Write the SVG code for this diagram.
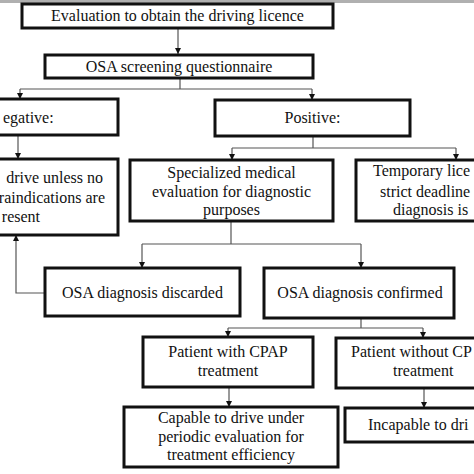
<svg xmlns="http://www.w3.org/2000/svg" width="474" height="474" viewBox="0 0 474 474">
<defs>
<marker id="ah" viewBox="0 0 6 6" refX="6" refY="3" markerWidth="6" markerHeight="6" markerUnits="userSpaceOnUse" orient="auto">
<path d="M0,0 L6,3 L0,6 Z" fill="#111"/>
</marker>
<style>
.box{fill:#fff;stroke:#111;stroke-width:3}
.t{font-family:"Liberation Serif","Times New Roman",serif;font-size:16px;fill:#111}
.c{text-anchor:middle}
.ln{fill:none;stroke:#555;stroke-width:1.2}
.ar{fill:none;stroke:#555;stroke-width:1.2;marker-end:url(#ah)}
</style>
</defs>
<rect x="0" y="0" width="474" height="474" fill="#fff"/>
<rect x="0" y="0" width="474" height="3" fill="#b0b0b0"/>
<g id="connectors">
<path class="ar" d="M178,28 V54"/>
<path class="ln" d="M180,78 V89 M20,89 H312"/>
<path class="ar" d="M20,89 V99"/>
<path class="ar" d="M312,89 V100"/>
<path class="ar" d="M18,135 V159"/>
<path class="ln" d="M313,136 V148 M232,148 H456"/>
<path class="ar" d="M232,148 V160"/>
<path class="ar" d="M456,148 V160"/>
<path class="ln" d="M231,221 V244 M142,244 H361"/>
<path class="ar" d="M142,244 V268"/>
<path class="ar" d="M361,244 V268"/>
<path class="ar" d="M45,293 H16 V235"/>
<path class="ln" d="M361,318 V328 M228,328 H423"/>
<path class="ar" d="M228,328 V337"/>
<path class="ar" d="M423,328 V338"/>
<path class="ar" d="M229,387 V407"/>
<path class="ar" d="M424,388 V408"/>
</g>
<g id="eval">
<rect class="box" x="22" y="4" width="311" height="24"/>
<text class="t c" x="177.5" y="21">Evaluation to obtain the driving licence</text>
</g>
<g id="osa">
<rect class="box" x="45" y="55" width="268" height="23"/>
<text class="t c" x="179" y="72">OSA screening questionnaire</text>
</g>
<g id="negative">
<rect class="box" x="-10" y="99" width="128" height="36"/>
<text class="t" x="3" y="123">egative:</text>
</g>
<g id="positive">
<rect class="box" x="215" y="100" width="195" height="36"/>
<text class="t c" x="312.5" y="123">Positive:</text>
</g>
<g id="able">
<rect class="box" x="-10" y="159" width="128" height="76"/>
<text class="t" text-anchor="end"><tspan x="103" y="183">drive unless no</tspan><tspan x="105" y="203">raindications are</tspan><tspan x="40" y="222">resent</tspan></text>
</g>
<g id="specialized">
<rect class="box" x="130" y="160" width="203" height="61"/>
<text class="t c"><tspan x="231.5" y="178">Specialized medical</tspan><tspan x="231.5" y="197">evaluation for diagnostic</tspan><tspan x="231.5" y="215">purposes</tspan></text>
</g>
<g id="temporary">
<rect class="box" x="356" y="160" width="140" height="61"/>
<text class="t"><tspan x="373" y="176">Temporary lice</tspan><tspan x="380" y="197">strict deadline</tspan><tspan x="393" y="215">diagnosis is</tspan></text>
</g>
<g id="discarded">
<rect class="box" x="45" y="268" width="195" height="48"/>
<text class="t c" x="142.5" y="298">OSA diagnosis discarded</text>
</g>
<g id="confirmed">
<rect class="box" x="264" y="268" width="190" height="50"/>
<text class="t c" x="360" y="298">OSA diagnosis confirmed</text>
</g>
<g id="cpap">
<rect class="box" x="143" y="337" width="170" height="50"/>
<text class="t c"><tspan x="228" y="357">Patient with CPAP</tspan><tspan x="228" y="376">treatment</tspan></text>
</g>
<g id="nocpap">
<rect class="box" x="336" y="338" width="160" height="50"/>
<text class="t"><tspan x="351" y="357">Patient without CP</tspan><tspan x="393" y="376">treatment</tspan></text>
</g>
<g id="capable">
<rect class="box" x="124" y="407" width="214" height="60"/>
<text class="t c"><tspan x="231" y="423">Capable to drive under</tspan><tspan x="231" y="442">periodic evaluation for</tspan><tspan x="231" y="460">treatment efficiency</tspan></text>
</g>
<g id="incapable">
<rect class="box" x="345" y="408" width="150" height="34"/>
<text class="t" x="368" y="430">Incapable to dri</text>
</g>
</svg>
